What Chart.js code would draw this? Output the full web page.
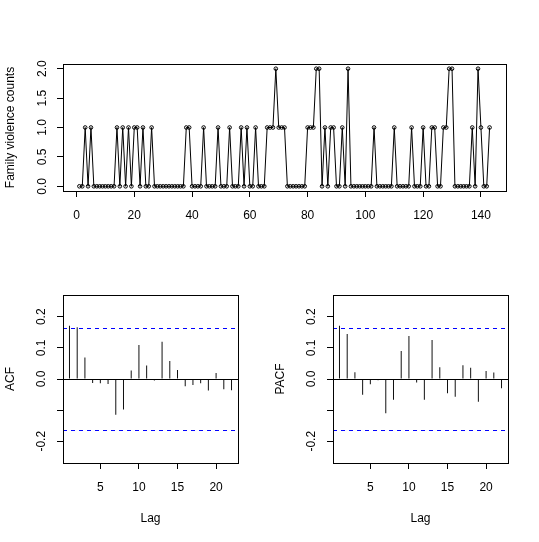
<!DOCTYPE html>
<html>
<head>
<meta charset="utf-8">
<script src="https://cdn.jsdelivr.net/npm/chart.js@4.4.0/dist/chart.umd.min.js"></script>
<style>
html, body { margin: 0; padding: 0; background: #fff; }
#wrap { position: relative; width: 539px; height: 542px; overflow: hidden; background: #fff; }
canvas { position: absolute; }
</style>
</head>
<body>
<div id="wrap">
  <canvas id="ts" width="539" height="271" style="left:0;top:0;width:539px;height:271px;"></canvas>
  <canvas id="acf" width="270" height="271" style="left:0;top:271px;width:270px;height:271px;"></canvas>
  <canvas id="pacf" width="269" height="271" style="left:270px;top:271px;width:269px;height:271px;"></canvas>
</div>
<script>
// ---- data ----
const counts = [
  0,0,1,0,1,0,0,0,0,0,
  0,0,0,1,0,1,0,1,0,1,
  1,0,1,0,0,1,0,0,0,0,
  0,0,0,0,0,0,0,1,1,0,
  0,0,0,1,0,0,0,0,1,0,
  0,0,1,0,0,0,1,0,1,0,
  0,1,0,0,0,1,1,1,2,1,
  1,1,0,0,0,0,0,0,0,1,
  1,1,2,2,0,1,0,1,1,0,
  0,1,0,2,0,0,0,0,0,0,
  0,0,1,0,0,0,0,0,0,1,
  0,0,0,0,0,1,0,0,0,1,
  0,0,1,1,0,0,1,1,2,2,
  0,0,0,0,0,0,1,0,2,1,
  0,0,1
];
const timeIndex = counts.map((_, i) => i + 1);

const lags = [1,2,3,4,5,6,7,8,9,10,11,12,13,14,15,16,17,18,19,20,21,22];
const acfValues = [0.171, 0.166, 0.069, -0.013, -0.014, -0.016, -0.115, -0.098, 0.027, 0.109, 0.043,
                   -0.005, 0.120, 0.058, 0.029, -0.023, -0.019, -0.014, -0.037, 0.019, -0.033, -0.036];
const pacfValues = [0.171, 0.145, 0.022, -0.051, -0.017, -0.004, -0.110, -0.067, 0.090, 0.138, -0.011,
                    -0.067, 0.125, 0.038, -0.046, -0.057, 0.044, 0.036, -0.073, 0.026, 0.021, -0.030];
const confLimit = 0.164;

const tsXTicks = [0, 20, 40, 60, 80, 100, 120, 140];
const tsXLabels = ['0', '20', '40', '60', '80', '100', '120', '140'];
const tsYTicks = [0, 0.5, 1, 1.5, 2];
const tsYLabels = ['0.0', '0.5', '1.0', '1.5', '2.0'];
const lagTicks = [5, 10, 15, 20];
const lagLabels = ['5', '10', '15', '20'];
const corrTicks = [-0.2, -0.1, 0, 0.1, 0.2];
const corrLabels = ['-0.2', '', '0.0', '0.1', '0.2'];

// ---- common settings ----
Chart.defaults.font.family = "'Liberation Sans', Arial, Helvetica, sans-serif";
Chart.defaults.font.size = 12;
Chart.defaults.color = '#000';

const boxPlugin = {
  id: 'rbox',
  afterDraw(chart) {
    const { ctx, chartArea: a } = chart;
    ctx.save();
    ctx.strokeStyle = '#000';
    ctx.lineWidth = 1;
    ctx.strokeRect(Math.round(a.left) + 0.5, Math.round(a.top) + 0.5,
                   Math.round(a.right - a.left), Math.round(a.bottom - a.top));
    ctx.restore();
  }
};

const refLinesPlugin = {
  id: 'refLines',
  afterDatasetsDraw(chart, args, opts) {
    if (!opts || !opts.lines) return;
    const { ctx, chartArea: a, scales } = chart;
    ctx.save();
    ctx.beginPath();
    ctx.rect(a.left, a.top, a.right - a.left, a.bottom - a.top);
    ctx.clip();
    opts.lines.forEach(l => {
      const y = Math.round(scales.y.getPixelForValue(l.value)) + 0.5;
      ctx.beginPath();
      ctx.strokeStyle = l.color;
      ctx.lineWidth = 1;
      ctx.setLineDash(l.dash || []);
      ctx.moveTo(a.left, y);
      ctx.lineTo(a.right, y);
      ctx.stroke();
    });
    ctx.restore();
  }
};

function axisGrid() {
  return { display: true, drawOnChartArea: false, drawTicks: true, tickLength: 6, color: '#000', lineWidth: 1, offset: false };
}

function xAxis(min, max, tickVals, tickLabels, height, title) {
  return {
    type: 'linear', position: 'bottom', min, max, offset: false,
    afterBuildTicks: s => { s.ticks = tickVals.map(v => ({ value: v })); },
    ticks: { autoSkip: false, maxRotation: 0, minRotation: 0, padding: 11, color: '#000',
             callback: (v, i) => tickLabels[i] },
    grid: axisGrid(),
    border: { display: false },
    title: title ? { display: true, text: title, color: '#000', font: { size: 12 }, padding: { top: 0, bottom: 16 } }
                 : { display: false },
    afterFit: s => { s.height = height; }
  };
}

function yAxis(min, max, tickVals, tickLabels, pad, title) {
  return {
    type: 'linear', position: 'left', min, max,
    afterBuildTicks: s => { s.ticks = tickVals.map(v => ({ value: v })); },
    ticks: { autoSkip: false, minRotation: 90, maxRotation: 90, crossAlign: 'center', padding: pad, color: '#000',
             callback: (v, i) => tickLabels[i] },
    grid: axisGrid(),
    border: { display: false },
    title: { display: true, text: title, color: '#000', font: { size: 12 }, padding: { top: 3, bottom: 0 } },
    afterFit: s => { s.width = 63; }
  };
}

const baseOpts = {
  responsive: false,
  animation: false,
  events: [],
};

// ---- time series ----
new Chart(document.getElementById('ts'), {
  type: 'line',
  data: {
    datasets: [{
      data: timeIndex.map((t, i) => ({ x: t, y: counts[i] })),
      borderColor: '#000',
      borderWidth: 1,
      tension: 0,
      pointRadius: 1.8,
      pointBorderWidth: 1,
      pointBorderColor: '#000',
      pointBackgroundColor: 'rgba(0,0,0,0)',
      fill: false
    }]
  },
  options: Object.assign({}, baseOpts, {
    layout: { padding: { top: 64, right: 33, left: 0, bottom: 0 } },
    plugins: { legend: { display: false }, tooltip: { enabled: false } },
    scales: {
      x: xAxis(-4.68, 148.68, tsXTicks, tsXLabels, 80, null),
      y: yAxis(-0.08, 2.08, tsYTicks, tsYLabels, 6, 'Family violence counts')
    }
  }),
  plugins: [boxPlugin]
});

// ---- ACF / PACF ----
function corrChart(id, values, title, rightPad) {
  new Chart(document.getElementById(id), {
    type: 'bar',
    data: {
      datasets: [{
        data: lags.map((l, i) => ({ x: l, y: values[i] })),
        backgroundColor: '#111',
        borderWidth: 0,
        inflateAmount: 0,
        barThickness: 1
      }]
    },
    options: Object.assign({}, baseOpts, {
      layout: { padding: { top: 24, right: rightPad, left: 0, bottom: 0 } },
      plugins: {
        legend: { display: false }, tooltip: { enabled: false },
        refLines: { lines: [
          { value: 0, color: '#000' },
          { value: confLimit, color: '#0000FF', dash: [4, 4] },
          { value: -confLimit, color: '#0000FF', dash: [4, 4] }
        ] }
      },
      scales: {
        x: xAxis(0.16, 22.84, lagTicks, lagLabels, 79, 'Lag'),
        y: yAxis(-0.27, 0.27, corrTicks, corrLabels, 4.5, title)
      }
    }),
    plugins: [refLinesPlugin, boxPlugin]
  });
}
corrChart('acf', acfValues, 'ACF', 32);
corrChart('pacf', pacfValues, 'PACF', 31);
</script>
</body>
</html>
